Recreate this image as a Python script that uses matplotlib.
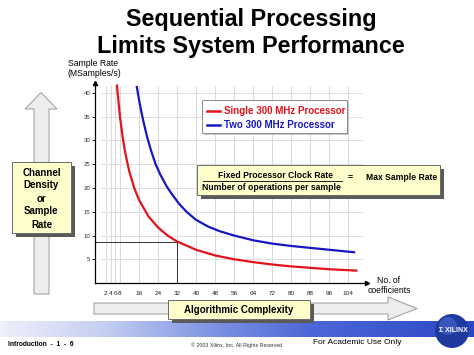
import matplotlib
matplotlib.use("Agg")
import matplotlib.pyplot as plt
import numpy as np
from matplotlib.colors import LinearSegmentedColormap
from matplotlib.patches import Circle, Polygon, Rectangle

plt.rcParams["font.family"] = ["Liberation Sans", "DejaVu Sans"]

# values
red_n = [6.7, 7, 8, 9, 10, 11, 12, 14, 16, 20, 24, 28, 32, 40, 48, 56, 64, 72, 80, 88, 96, 104, 108]
red_rate = [41.8, 40, 35, 31.1, 28, 25.5, 23.3, 20, 17.5, 14, 11.7, 10, 8.75, 7, 5.8, 5,
            4.4, 3.9, 3.5, 3.2, 2.9, 2.7, 2.6]
blue_n = [15, 16, 17, 18, 19.5, 21, 23, 25, 27.7, 30, 33, 36, 40, 45, 50, 56, 64, 72, 80, 88, 96, 107]
blue_rate = [41.5, 38.6, 36.0, 33.7, 30.6, 28.0, 25.0, 22.8, 20.3, 18.6, 16.6, 15.0, 13.3,
             11.9, 10.9, 10.0, 9.0, 8.3, 7.8, 7.4, 7.0, 6.45]
x_ticks = [2, 4, 6, 8, 16, 24, 32, 40, 48, 56, 64, 72, 80, 88, 96, 104]
y_ticks = [5, 10, 15, 20, 25, 30, 35, 40]
mark_n, mark_rate = 32, 8.7

W, H = 474, 355
fig = plt.figure(figsize=(W / 100, H / 100), dpi=100)
fig.patch.set_facecolor("white")


def overlay(z):
    ax = fig.add_axes([0, 0, 1, 1], zorder=z)
    ax.set_xlim(0, W)
    ax.set_ylim(H, 0)
    ax.axis("off")
    ax.patch.set_visible(False)
    return ax


bg = overlay(0)
top = overlay(3)


def shadow_box(ax, x0, y0, x1, y1, fc="#ffffcc", sc="#5a5a5a", ec="#6a6a6a", off=4):
    ax.add_patch(Rectangle((x0 + off, y0 + off), x1 - x0, y1 - y0, fc=sc, ec="none"))
    ax.add_patch(Rectangle((x0, y0), x1 - x0, y1 - y0, fc=fc, ec=ec, lw=0.7))


# title
bg.text(251, 26, "Sequential Processing", ha="center", va="baseline",
        fontsize=16.8, fontweight="bold")
bg.text(251, 53.5, "Limits System Performance", ha="center", va="baseline",
        fontsize=16.8, fontweight="bold")

# left vertical arrow
bg.add_patch(Polygon([(41, 92.5), (57, 109), (49, 109), (49, 294), (34, 294), (34, 109), (25, 109)],
                     closed=True, fc="#ededed", ec="#9a9a9a", lw=0.7))
# bottom horizontal arrow
bg.add_patch(Polygon([(94, 303), (388, 303), (388, 297), (417, 308.5), (388, 320), (388, 314), (94, 314)],
                     closed=True, fc="#ededed", ec="#9a9a9a", lw=0.7))

# footer band
band = LinearSegmentedColormap.from_list(
    "band", [(0, "#eef0fa"), (0.22, "#c4cef2"), (0.45, "#7d93e2"), (0.65, "#4d68d8"), (1, "#2a48c4")])
bg.imshow(np.linspace(0, 1, 256)[None, :], cmap=band, aspect="auto",
          extent=(0, W, 337.5, 322), zorder=1)
bg.set_xlim(0, W)
bg.set_ylim(H, 0)
bg.text(8, 344.5, "Introduction  -  1  -  6", fontsize=4.8, fontweight="bold", va="center")
bg.text(237, 345, "© 2003 Xilinx, Inc. All Rights Reserved", fontsize=3.8, ha="center",
        va="center", color="#333333")
bg.text(357, 343, "For Academic Use Only", fontsize=6, ha="center", va="center")
bg.add_patch(Circle((452, 331), 17, fc="#1e3a9e", ec="none", zorder=2))
bg.add_patch(Circle((448, 326), 9, fc="#4a6ad0", ec="none", alpha=0.6, zorder=2))
bg.text(453, 331, "Σ XILINX", fontsize=5, fontweight="bold", color="white",
        ha="center", va="center", zorder=3)

# axis captions
bg.text(68, 68.5, "Sample Rate\n(MSamples/s)", fontsize=6.2, va="center", linespacing=1.25)
bg.text(389, 285.5, "No. of\ncoefficients", fontsize=6.2, ha="center", va="center",
        linespacing=1.15)

# chart axes: x px = 101 + 2.375 n, y px = 283 - 4.75 r
x_lo, x_hi = (95 - 101) / 2.375, (367 - 101) / 2.375
y_hi = (283 - 83) / 4.75
ax = fig.add_axes([95 / W, (H - 283) / H, (367 - 95) / W, 200 / H], zorder=1)
ax.patch.set_visible(False)
ax.set_xlim(x_lo, x_hi)
ax.set_ylim(0, y_hi)
for s in ["top", "right"]:
    ax.spines[s].set_visible(False)
for s in ["left", "bottom"]:
    ax.spines[s].set_linewidth(0.9)
ax.set_xticks(x_ticks)
ax.set_yticks(y_ticks)
ax.tick_params(axis="x", labelsize=4.6, length=0, pad=6, colors="#222222")
ax.tick_params(axis="y", labelsize=4.3, length=2, width=0.6, pad=1.5, colors="black",
               labelcolor="#333333")
for t in x_ticks:
    ax.plot([t, t], [0, 41.5], color="#d2d2d2", lw=0.6, zorder=0)
for r in y_ticks:
    ax.plot([0, 110], [r, r], color="#dadada", lw=0.6, zorder=0)
ax.plot([mark_n, mark_n], [0, mark_rate], color="#333333", lw=0.7)
ax.plot([x_lo, mark_n], [mark_rate, mark_rate], color="#333333", lw=0.7)
ax.plot(red_n, red_rate, color="#e3121b", lw=1.6, solid_capstyle="butt", clip_on=False)
ax.plot(blue_n, blue_rate, color="#1717c4", lw=1.6, solid_capstyle="butt", clip_on=False)
ax.plot([0], [1], marker="^", color="black", ms=3, transform=ax.transAxes, clip_on=False)
ax.plot([1], [0], marker=">", color="black", ms=3, transform=ax.transAxes, clip_on=False)

# legend box
shadow_box(top, 202, 100, 347, 133, fc="white", sc="#c8c8c8", ec="#8a8a8a", off=2)
top.plot([207, 220], [111, 111], color="#e3121b", lw=1.8)
top.plot([207, 220], [125, 125], color="#1717c4", lw=1.8)
top.text(224, 111, "Single 300 MHz Processor", fontsize=7, fontweight="bold",
         color="#e3121b", va="center")
top.text(224, 125, "Two 300 MHz Processor", fontsize=7, fontweight="bold",
         color="#1717c4", va="center")

# formula box
shadow_box(top, 197, 165, 440, 195)
top.text(276, 175, "Fixed Processor Clock Rate", fontsize=6.2, fontweight="bold",
         ha="center", va="center")
top.plot([203, 342], [180.5, 180.5], color="black", lw=0.6)
top.text(271, 187, "Number of operations per sample", fontsize=6.2, fontweight="bold",
         ha="center", va="center")
top.text(350, 177, "=", fontsize=6.2, fontweight="bold", ha="center", va="center")
top.text(402, 178, "Max Sample Rate", fontsize=6.2, fontweight="bold", ha="center", va="center")

# side boxes
shadow_box(top, 12, 162, 71, 233)
for i, word in enumerate(["Channel", "Density", "or", "Sample", "Rate"]):
    top.text(41.5, 172.5 + 13 * i, word, fontsize=7, fontweight="bold", ha="center", va="center")
shadow_box(top, 168, 300, 310, 319)
top.text(239, 310, "Algorithmic Complexity", fontsize=7, fontweight="bold", ha="center", va="center")

fig.savefig("out.png", dpi=100)
